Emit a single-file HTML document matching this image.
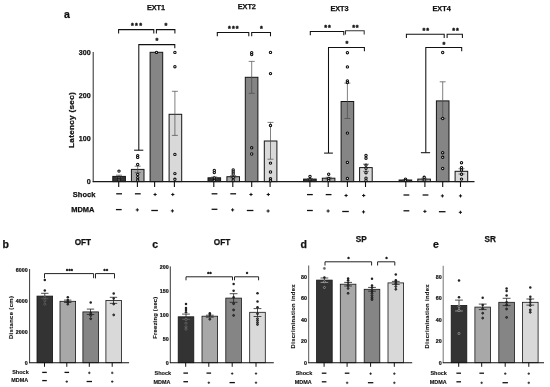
<!DOCTYPE html><html><head><meta charset="utf-8"><title>Figure</title>
<style>html,body{margin:0;padding:0;background:#fff}svg{display:block}text{font-family:"Liberation Sans",Arial,sans-serif;font-weight:bold;stroke:#111;stroke-width:.25px}</style></head><body>
<svg width="550" height="387" viewBox="0 0 550 387">
<rect width="550" height="387" fill="#fff"/>
<text x="64.0" y="17.7" font-size="10.5" text-anchor="start" fill="#111" >a</text>
<text x="156.0" y="9.8" font-size="7.3" text-anchor="middle" fill="#111" >EXT1</text>
<text x="246.8" y="8.5" font-size="7.3" text-anchor="middle" fill="#111" >EXT2</text>
<text x="339.5" y="10.6" font-size="7.3" text-anchor="middle" fill="#111" >EXT3</text>
<text x="441.6" y="11.3" font-size="7.3" text-anchor="middle" fill="#111" >EXT4</text>
<text x="90.7" y="184.2" font-size="7.1" text-anchor="end" fill="#111" >0</text>
<text x="90.7" y="141.0" font-size="7.1" text-anchor="end" fill="#111" >100</text>
<text x="90.7" y="97.8" font-size="7.1" text-anchor="end" fill="#111" >200</text>
<text x="90.7" y="54.7" font-size="7.1" text-anchor="end" fill="#111" >300</text>
<text transform="translate(74.2,120.1) rotate(-90)" font-size="8.1" text-anchor="middle" textLength="55.6" lengthAdjust="spacing" fill="#111">Latency (sec)</text>
<rect x="112.8" y="176.4" width="12.6" height="5.2" fill="#333333" stroke="#141414" stroke-width="1.0"/>
<rect x="131.4" y="169.4" width="12.6" height="12.2" fill="#a8a8a8" stroke="#141414" stroke-width="1.0"/>
<rect x="150.1" y="52.3" width="12.6" height="129.3" fill="#858585" stroke="#141414" stroke-width="1.0"/>
<rect x="169.1" y="114.3" width="12.6" height="67.3" fill="#d9d9d9" stroke="#141414" stroke-width="1.0"/>
<rect x="208.0" y="177.8" width="12.6" height="3.8" fill="#333333" stroke="#141414" stroke-width="1.0"/>
<rect x="226.9" y="176.7" width="12.6" height="4.9" fill="#a8a8a8" stroke="#141414" stroke-width="1.0"/>
<rect x="245.3" y="77.3" width="12.6" height="104.3" fill="#858585" stroke="#141414" stroke-width="1.0"/>
<rect x="264.3" y="141.0" width="12.6" height="40.6" fill="#d9d9d9" stroke="#141414" stroke-width="1.0"/>
<rect x="303.6" y="179.1" width="12.6" height="2.5" fill="#333333" stroke="#141414" stroke-width="1.0"/>
<rect x="322.3" y="178.2" width="12.6" height="3.4" fill="#a8a8a8" stroke="#141414" stroke-width="1.0"/>
<rect x="341.1" y="101.5" width="12.6" height="80.1" fill="#858585" stroke="#141414" stroke-width="1.0"/>
<rect x="359.6" y="167.6" width="12.6" height="14.0" fill="#d9d9d9" stroke="#141414" stroke-width="1.0"/>
<rect x="399.1" y="180.0" width="12.6" height="1.6" fill="#333333" stroke="#141414" stroke-width="1.0"/>
<rect x="417.8" y="179.1" width="12.6" height="2.5" fill="#a8a8a8" stroke="#141414" stroke-width="1.0"/>
<rect x="436.4" y="100.9" width="12.6" height="80.7" fill="#858585" stroke="#141414" stroke-width="1.0"/>
<rect x="455.1" y="171.3" width="12.6" height="10.3" fill="#d9d9d9" stroke="#141414" stroke-width="1.0"/>
<line x1="93.2" y1="52.0" x2="93.2" y2="182.1" stroke="#2a2a2a" stroke-width="1"/>
<line x1="92.7" y1="181.6" x2="474.5" y2="181.6" stroke="#1a1a1a" stroke-width="1.1"/>
<line x1="118.7" y1="181.6" x2="118.7" y2="187.0" stroke="#111" stroke-width="1.1"/>
<line x1="137.4" y1="181.6" x2="137.4" y2="187.0" stroke="#111" stroke-width="1.1"/>
<line x1="154.6" y1="181.6" x2="154.6" y2="187.0" stroke="#111" stroke-width="1.1"/>
<line x1="174.4" y1="181.6" x2="174.4" y2="187.0" stroke="#111" stroke-width="1.1"/>
<line x1="213.8" y1="181.6" x2="213.8" y2="187.0" stroke="#111" stroke-width="1.1"/>
<line x1="232.8" y1="181.6" x2="232.8" y2="187.0" stroke="#111" stroke-width="1.1"/>
<line x1="251.7" y1="181.6" x2="251.7" y2="187.0" stroke="#111" stroke-width="1.1"/>
<line x1="270.1" y1="181.6" x2="270.1" y2="187.0" stroke="#111" stroke-width="1.1"/>
<line x1="309.9" y1="181.6" x2="309.9" y2="187.0" stroke="#111" stroke-width="1.1"/>
<line x1="328.2" y1="181.6" x2="328.2" y2="187.0" stroke="#111" stroke-width="1.1"/>
<line x1="347.4" y1="181.6" x2="347.4" y2="187.0" stroke="#111" stroke-width="1.1"/>
<line x1="365.5" y1="181.6" x2="365.5" y2="187.0" stroke="#111" stroke-width="1.1"/>
<line x1="405.8" y1="181.6" x2="405.8" y2="187.0" stroke="#111" stroke-width="1.1"/>
<line x1="424.9" y1="181.6" x2="424.9" y2="187.0" stroke="#111" stroke-width="1.1"/>
<line x1="442.7" y1="181.6" x2="442.7" y2="187.0" stroke="#111" stroke-width="1.1"/>
<line x1="460.5" y1="181.6" x2="460.5" y2="187.0" stroke="#111" stroke-width="1.1"/>
<line x1="119.0" y1="175.2" x2="119.0" y2="177.4" stroke="#4a4a4a" stroke-width="0.7"/>
<line x1="116.0" y1="175.2" x2="122.0" y2="175.2" stroke="#4a4a4a" stroke-width="0.7"/>
<line x1="116.0" y1="177.4" x2="122.0" y2="177.4" stroke="#4a4a4a" stroke-width="0.7"/>
<line x1="137.7" y1="166.2" x2="137.7" y2="172.6" stroke="#4a4a4a" stroke-width="0.7"/>
<line x1="134.7" y1="166.2" x2="140.7" y2="166.2" stroke="#4a4a4a" stroke-width="0.7"/>
<line x1="134.7" y1="172.6" x2="140.7" y2="172.6" stroke="#4a4a4a" stroke-width="0.7"/>
<line x1="174.9" y1="91.3" x2="174.9" y2="135.4" stroke="#4a4a4a" stroke-width="0.7"/>
<line x1="171.9" y1="91.3" x2="177.9" y2="91.3" stroke="#4a4a4a" stroke-width="0.7"/>
<line x1="171.9" y1="135.4" x2="177.9" y2="135.4" stroke="#4a4a4a" stroke-width="0.7"/>
<line x1="214.3" y1="177.0" x2="214.3" y2="178.6" stroke="#4a4a4a" stroke-width="0.7"/>
<line x1="211.3" y1="177.0" x2="217.3" y2="177.0" stroke="#4a4a4a" stroke-width="0.7"/>
<line x1="211.3" y1="178.6" x2="217.3" y2="178.6" stroke="#4a4a4a" stroke-width="0.7"/>
<line x1="233.2" y1="175.6" x2="233.2" y2="177.8" stroke="#4a4a4a" stroke-width="0.7"/>
<line x1="230.2" y1="175.6" x2="236.2" y2="175.6" stroke="#4a4a4a" stroke-width="0.7"/>
<line x1="230.2" y1="177.8" x2="236.2" y2="177.8" stroke="#4a4a4a" stroke-width="0.7"/>
<line x1="251.7" y1="61.4" x2="251.7" y2="93.3" stroke="#4a4a4a" stroke-width="0.7"/>
<line x1="248.7" y1="61.4" x2="254.7" y2="61.4" stroke="#4a4a4a" stroke-width="0.7"/>
<line x1="248.7" y1="93.3" x2="254.7" y2="93.3" stroke="#4a4a4a" stroke-width="0.7"/>
<line x1="270.5" y1="122.4" x2="270.5" y2="159.2" stroke="#4a4a4a" stroke-width="0.7"/>
<line x1="267.5" y1="122.4" x2="273.5" y2="122.4" stroke="#4a4a4a" stroke-width="0.7"/>
<line x1="267.5" y1="159.2" x2="273.5" y2="159.2" stroke="#4a4a4a" stroke-width="0.7"/>
<line x1="310.0" y1="178.5" x2="310.0" y2="179.7" stroke="#4a4a4a" stroke-width="0.7"/>
<line x1="307.0" y1="178.5" x2="313.0" y2="178.5" stroke="#4a4a4a" stroke-width="0.7"/>
<line x1="307.0" y1="179.7" x2="313.0" y2="179.7" stroke="#4a4a4a" stroke-width="0.7"/>
<line x1="328.7" y1="177.3" x2="328.7" y2="179.1" stroke="#4a4a4a" stroke-width="0.7"/>
<line x1="325.7" y1="177.3" x2="331.7" y2="177.3" stroke="#4a4a4a" stroke-width="0.7"/>
<line x1="325.7" y1="179.1" x2="331.7" y2="179.1" stroke="#4a4a4a" stroke-width="0.7"/>
<line x1="347.4" y1="83.1" x2="347.4" y2="118.5" stroke="#4a4a4a" stroke-width="0.7"/>
<line x1="344.4" y1="83.1" x2="350.4" y2="83.1" stroke="#4a4a4a" stroke-width="0.7"/>
<line x1="344.4" y1="118.5" x2="350.4" y2="118.5" stroke="#4a4a4a" stroke-width="0.7"/>
<line x1="366.0" y1="164.2" x2="366.0" y2="171.3" stroke="#4a4a4a" stroke-width="0.7"/>
<line x1="363.0" y1="164.2" x2="369.0" y2="164.2" stroke="#4a4a4a" stroke-width="0.7"/>
<line x1="363.0" y1="171.3" x2="369.0" y2="171.3" stroke="#4a4a4a" stroke-width="0.7"/>
<line x1="405.5" y1="179.6" x2="405.5" y2="180.4" stroke="#4a4a4a" stroke-width="0.7"/>
<line x1="402.5" y1="179.6" x2="408.5" y2="179.6" stroke="#4a4a4a" stroke-width="0.7"/>
<line x1="402.5" y1="180.4" x2="408.5" y2="180.4" stroke="#4a4a4a" stroke-width="0.7"/>
<line x1="424.2" y1="178.3" x2="424.2" y2="179.9" stroke="#4a4a4a" stroke-width="0.7"/>
<line x1="421.2" y1="178.3" x2="427.2" y2="178.3" stroke="#4a4a4a" stroke-width="0.7"/>
<line x1="421.2" y1="179.9" x2="427.2" y2="179.9" stroke="#4a4a4a" stroke-width="0.7"/>
<line x1="442.7" y1="81.8" x2="442.7" y2="118.5" stroke="#4a4a4a" stroke-width="0.7"/>
<line x1="439.7" y1="81.8" x2="445.7" y2="81.8" stroke="#4a4a4a" stroke-width="0.7"/>
<line x1="439.7" y1="118.5" x2="445.7" y2="118.5" stroke="#4a4a4a" stroke-width="0.7"/>
<line x1="461.5" y1="168.7" x2="461.5" y2="174.0" stroke="#4a4a4a" stroke-width="0.7"/>
<line x1="458.5" y1="168.7" x2="464.5" y2="168.7" stroke="#4a4a4a" stroke-width="0.7"/>
<line x1="458.5" y1="174.0" x2="464.5" y2="174.0" stroke="#4a4a4a" stroke-width="0.7"/>
<circle cx="119.0" cy="171.1" r="1.18" fill="rgba(255,255,255,.75)" stroke="#0a0a0a" stroke-width="1.05"/>
<circle cx="119.0" cy="178.0" r="1.18" fill="rgba(255,255,255,.75)" stroke="#0a0a0a" stroke-width="1.05"/>
<circle cx="119.0" cy="180.0" r="1.18" fill="rgba(255,255,255,.75)" stroke="#0a0a0a" stroke-width="1.05"/>
<circle cx="137.7" cy="155.6" r="1.18" fill="rgba(255,255,255,.75)" stroke="#0a0a0a" stroke-width="1.05"/>
<circle cx="137.7" cy="157.4" r="1.18" fill="rgba(255,255,255,.75)" stroke="#0a0a0a" stroke-width="1.05"/>
<circle cx="137.7" cy="164.5" r="1.18" fill="rgba(255,255,255,.75)" stroke="#0a0a0a" stroke-width="1.05"/>
<circle cx="137.7" cy="174.4" r="1.18" fill="rgba(255,255,255,.75)" stroke="#0a0a0a" stroke-width="1.05"/>
<circle cx="137.7" cy="177.6" r="1.18" fill="rgba(255,255,255,.75)" stroke="#0a0a0a" stroke-width="1.05"/>
<circle cx="137.7" cy="180.2" r="1.18" fill="rgba(255,255,255,.75)" stroke="#0a0a0a" stroke-width="1.05"/>
<circle cx="156.5" cy="52.4" r="1.18" fill="rgba(255,255,255,.75)" stroke="#0a0a0a" stroke-width="1.05"/>
<circle cx="174.9" cy="52.4" r="1.18" fill="rgba(255,255,255,.75)" stroke="#0a0a0a" stroke-width="1.05"/>
<circle cx="174.9" cy="66.7" r="1.18" fill="rgba(255,255,255,.75)" stroke="#0a0a0a" stroke-width="1.05"/>
<circle cx="174.9" cy="154.4" r="1.18" fill="rgba(255,255,255,.75)" stroke="#0a0a0a" stroke-width="1.05"/>
<circle cx="174.9" cy="173.6" r="1.18" fill="rgba(255,255,255,.75)" stroke="#0a0a0a" stroke-width="1.05"/>
<circle cx="174.9" cy="179.3" r="1.18" fill="rgba(255,255,255,.75)" stroke="#0a0a0a" stroke-width="1.05"/>
<circle cx="214.3" cy="170.5" r="1.18" fill="rgba(255,255,255,.75)" stroke="#0a0a0a" stroke-width="1.05"/>
<circle cx="214.3" cy="172.6" r="1.18" fill="rgba(255,255,255,.75)" stroke="#0a0a0a" stroke-width="1.05"/>
<circle cx="214.3" cy="178.0" r="1.18" fill="rgba(255,255,255,.75)" stroke="#0a0a0a" stroke-width="1.05"/>
<circle cx="214.3" cy="180.3" r="1.18" fill="rgba(255,255,255,.75)" stroke="#0a0a0a" stroke-width="1.05"/>
<circle cx="233.2" cy="170.0" r="1.18" fill="rgba(255,255,255,.75)" stroke="#0a0a0a" stroke-width="1.05"/>
<circle cx="233.2" cy="172.0" r="1.18" fill="rgba(255,255,255,.75)" stroke="#0a0a0a" stroke-width="1.05"/>
<circle cx="233.2" cy="174.0" r="1.18" fill="rgba(255,255,255,.75)" stroke="#0a0a0a" stroke-width="1.05"/>
<circle cx="233.2" cy="177.6" r="1.18" fill="rgba(255,255,255,.75)" stroke="#0a0a0a" stroke-width="1.05"/>
<circle cx="233.2" cy="180.2" r="1.18" fill="rgba(255,255,255,.75)" stroke="#0a0a0a" stroke-width="1.05"/>
<circle cx="251.7" cy="52.7" r="1.18" fill="rgba(255,255,255,.75)" stroke="#0a0a0a" stroke-width="1.05"/>
<circle cx="251.7" cy="54.6" r="1.18" fill="rgba(255,255,255,.75)" stroke="#0a0a0a" stroke-width="1.05"/>
<circle cx="251.7" cy="147.8" r="1.18" fill="rgba(255,255,255,.75)" stroke="#0a0a0a" stroke-width="1.05"/>
<circle cx="251.7" cy="154.0" r="1.18" fill="rgba(255,255,255,.75)" stroke="#0a0a0a" stroke-width="1.05"/>
<circle cx="270.5" cy="52.4" r="1.18" fill="rgba(255,255,255,.75)" stroke="#0a0a0a" stroke-width="1.05"/>
<circle cx="270.5" cy="73.6" r="1.18" fill="rgba(255,255,255,.75)" stroke="#0a0a0a" stroke-width="1.05"/>
<circle cx="270.5" cy="125.5" r="1.18" fill="rgba(255,255,255,.75)" stroke="#0a0a0a" stroke-width="1.05"/>
<circle cx="270.5" cy="163.1" r="1.18" fill="rgba(255,255,255,.75)" stroke="#0a0a0a" stroke-width="1.05"/>
<circle cx="270.5" cy="172.0" r="1.18" fill="rgba(255,255,255,.75)" stroke="#0a0a0a" stroke-width="1.05"/>
<circle cx="270.5" cy="178.8" r="1.18" fill="rgba(255,255,255,.75)" stroke="#0a0a0a" stroke-width="1.05"/>
<circle cx="270.5" cy="180.8" r="1.18" fill="rgba(255,255,255,.75)" stroke="#0a0a0a" stroke-width="1.05"/>
<circle cx="310.0" cy="176.4" r="1.18" fill="rgba(255,255,255,.75)" stroke="#0a0a0a" stroke-width="1.05"/>
<circle cx="310.0" cy="179.8" r="1.18" fill="rgba(255,255,255,.75)" stroke="#0a0a0a" stroke-width="1.05"/>
<circle cx="328.7" cy="174.2" r="1.18" fill="rgba(255,255,255,.75)" stroke="#0a0a0a" stroke-width="1.05"/>
<circle cx="328.7" cy="178.5" r="1.18" fill="rgba(255,255,255,.75)" stroke="#0a0a0a" stroke-width="1.05"/>
<circle cx="328.7" cy="180.4" r="1.18" fill="rgba(255,255,255,.75)" stroke="#0a0a0a" stroke-width="1.05"/>
<circle cx="347.4" cy="52.7" r="1.18" fill="rgba(255,255,255,.75)" stroke="#0a0a0a" stroke-width="1.05"/>
<circle cx="347.4" cy="66.9" r="1.18" fill="rgba(255,255,255,.75)" stroke="#0a0a0a" stroke-width="1.05"/>
<circle cx="347.4" cy="80.9" r="1.18" fill="rgba(255,255,255,.75)" stroke="#0a0a0a" stroke-width="1.05"/>
<circle cx="347.4" cy="82.6" r="1.18" fill="rgba(255,255,255,.75)" stroke="#0a0a0a" stroke-width="1.05"/>
<circle cx="347.4" cy="133.1" r="1.18" fill="rgba(255,255,255,.75)" stroke="#0a0a0a" stroke-width="1.05"/>
<circle cx="347.4" cy="162.4" r="1.18" fill="rgba(255,255,255,.75)" stroke="#0a0a0a" stroke-width="1.05"/>
<circle cx="347.4" cy="178.5" r="1.18" fill="rgba(255,255,255,.75)" stroke="#0a0a0a" stroke-width="1.05"/>
<circle cx="366.0" cy="155.5" r="1.18" fill="rgba(255,255,255,.75)" stroke="#0a0a0a" stroke-width="1.05"/>
<circle cx="366.0" cy="158.2" r="1.18" fill="rgba(255,255,255,.75)" stroke="#0a0a0a" stroke-width="1.05"/>
<circle cx="366.0" cy="165.1" r="1.18" fill="rgba(255,255,255,.75)" stroke="#0a0a0a" stroke-width="1.05"/>
<circle cx="366.0" cy="168.2" r="1.18" fill="rgba(255,255,255,.75)" stroke="#0a0a0a" stroke-width="1.05"/>
<circle cx="366.0" cy="172.7" r="1.18" fill="rgba(255,255,255,.75)" stroke="#0a0a0a" stroke-width="1.05"/>
<circle cx="366.0" cy="178.2" r="1.18" fill="rgba(255,255,255,.75)" stroke="#0a0a0a" stroke-width="1.05"/>
<circle cx="366.0" cy="180.6" r="1.18" fill="rgba(255,255,255,.75)" stroke="#0a0a0a" stroke-width="1.05"/>
<circle cx="405.5" cy="179.1" r="1.18" fill="rgba(255,255,255,.75)" stroke="#0a0a0a" stroke-width="1.05"/>
<circle cx="405.5" cy="180.6" r="1.18" fill="rgba(255,255,255,.75)" stroke="#0a0a0a" stroke-width="1.05"/>
<circle cx="424.2" cy="177.3" r="1.18" fill="rgba(255,255,255,.75)" stroke="#0a0a0a" stroke-width="1.05"/>
<circle cx="424.2" cy="180.0" r="1.18" fill="rgba(255,255,255,.75)" stroke="#0a0a0a" stroke-width="1.05"/>
<circle cx="442.7" cy="52.5" r="1.18" fill="rgba(255,255,255,.75)" stroke="#0a0a0a" stroke-width="1.05"/>
<circle cx="442.7" cy="118.5" r="1.18" fill="rgba(255,255,255,.75)" stroke="#0a0a0a" stroke-width="1.05"/>
<circle cx="442.7" cy="152.7" r="1.18" fill="rgba(255,255,255,.75)" stroke="#0a0a0a" stroke-width="1.05"/>
<circle cx="442.7" cy="157.3" r="1.18" fill="rgba(255,255,255,.75)" stroke="#0a0a0a" stroke-width="1.05"/>
<circle cx="442.7" cy="168.5" r="1.18" fill="rgba(255,255,255,.75)" stroke="#0a0a0a" stroke-width="1.05"/>
<circle cx="461.5" cy="162.7" r="1.18" fill="rgba(255,255,255,.75)" stroke="#0a0a0a" stroke-width="1.05"/>
<circle cx="461.5" cy="167.6" r="1.18" fill="rgba(255,255,255,.75)" stroke="#0a0a0a" stroke-width="1.05"/>
<circle cx="461.5" cy="170.0" r="1.18" fill="rgba(255,255,255,.75)" stroke="#0a0a0a" stroke-width="1.05"/>
<circle cx="461.5" cy="174.2" r="1.18" fill="rgba(255,255,255,.75)" stroke="#0a0a0a" stroke-width="1.05"/>
<circle cx="461.5" cy="179.1" r="1.18" fill="rgba(255,255,255,.75)" stroke="#0a0a0a" stroke-width="1.05"/>
<path d="M118.6 33.5V29.6H153.8V33.5" fill="none" stroke="#111" stroke-width="1.05"/>
<path d="M156.4 33.5V29.6H174.9V33.5" fill="none" stroke="#111" stroke-width="1.05"/>
<text x="131.0 135.1 139.2" y="28.0" font-size="7.2" fill="#111" style="stroke-width:0.4px">***</text>
<text x="164.5" y="27.8" font-size="7.2" fill="#111" style="stroke-width:0.4px">*</text>
<text x="155.6" y="43.2" font-size="7.2" fill="#111" style="stroke-width:0.4px">*</text>
<path d="M138.8 150.2V44.6H174.8V48.3" fill="none" stroke="#111" stroke-width="1.05"/>
<line x1="134.1" y1="150.2" x2="143.3" y2="150.2" stroke="#111" stroke-width="1.05"/>
<path d="M217.3 36.3V32.5H248.8V36.3" fill="none" stroke="#111" stroke-width="1.05"/>
<path d="M251.7 36.3V32.5H270.5V36.3" fill="none" stroke="#111" stroke-width="1.05"/>
<text x="227.9 231.9 235.8" y="31.2" font-size="7.2" fill="#111" style="stroke-width:0.4px">***</text>
<text x="259.9" y="31.2" font-size="7.2" fill="#111" style="stroke-width:0.4px">*</text>
<path d="M310.3 35.2V31.4H343.8V35.2" fill="none" stroke="#111" stroke-width="1.05"/>
<path d="M345.5 34.6V30.8H364.2V34.6" fill="none" stroke="#333" stroke-width="1.05"/>
<text x="324.3 328.0" y="30.2" font-size="7.2" fill="#111" style="stroke-width:0.4px">**</text>
<text x="352.2 355.8" y="29.7" font-size="7.2" fill="#111" style="stroke-width:0.4px">**</text>
<text x="345.6" y="46.2" font-size="7.2" fill="#111" style="stroke-width:0.4px">*</text>
<path d="M328.5 153.1V47.5H364.4V51.3" fill="none" stroke="#111" stroke-width="1.05"/>
<line x1="324.1" y1="153.1" x2="332.9" y2="153.1" stroke="#111" stroke-width="1.05"/>
<path d="M406.4 38.1V34.3H444.2V38.1" fill="none" stroke="#111" stroke-width="1.05"/>
<path d="M447.1 38.1V34.3H462.4V38.1" fill="none" stroke="#111" stroke-width="1.05"/>
<text x="422.5 426.2" y="32.6" font-size="7.2" fill="#111" style="stroke-width:0.4px">**</text>
<text x="452.3 455.9" y="32.6" font-size="7.2" fill="#111" style="stroke-width:0.4px">**</text>
<text x="442.5" y="46.5" font-size="7.2" fill="#111" style="stroke-width:0.4px">*</text>
<path d="M425.8 152.7V47.4H461.7V51.2" fill="none" stroke="#111" stroke-width="1.05"/>
<line x1="420.9" y1="152.7" x2="430.1" y2="152.7" stroke="#111" stroke-width="1.05"/>
<text x="72.8" y="197.0" font-size="7.5" text-anchor="start" fill="#111" >Shock</text>
<text x="71.3" y="212.3" font-size="7.45" text-anchor="start" fill="#111" >MDMA</text>
<line x1="116.2" y1="193.8" x2="122.0" y2="193.8" stroke="#111" stroke-width="1.3"/>
<line x1="134.9" y1="193.8" x2="140.7" y2="193.8" stroke="#111" stroke-width="1.3"/>
<line x1="153.5" y1="194.5" x2="156.7" y2="194.5" stroke="#111" stroke-width="1.0"/>
<line x1="155.1" y1="192.9" x2="155.1" y2="196.1" stroke="#111" stroke-width="1.0"/>
<line x1="171.2" y1="194.5" x2="174.4" y2="194.5" stroke="#111" stroke-width="1.0"/>
<line x1="172.8" y1="192.9" x2="172.8" y2="196.1" stroke="#111" stroke-width="1.0"/>
<line x1="115.9" y1="209.6" x2="121.7" y2="209.6" stroke="#111" stroke-width="1.3"/>
<line x1="135.7" y1="209.9" x2="138.9" y2="209.9" stroke="#111" stroke-width="1.0"/>
<line x1="137.3" y1="208.3" x2="137.3" y2="211.5" stroke="#111" stroke-width="1.0"/>
<line x1="151.3" y1="210.5" x2="157.9" y2="210.5" stroke="#111" stroke-width="1.3"/>
<line x1="170.8" y1="210.9" x2="174.0" y2="210.9" stroke="#111" stroke-width="1.0"/>
<line x1="172.4" y1="209.3" x2="172.4" y2="212.5" stroke="#111" stroke-width="1.0"/>
<line x1="211.6" y1="193.8" x2="217.4" y2="193.8" stroke="#111" stroke-width="1.3"/>
<line x1="230.3" y1="193.8" x2="236.1" y2="193.8" stroke="#111" stroke-width="1.3"/>
<line x1="249.4" y1="194.5" x2="252.6" y2="194.5" stroke="#111" stroke-width="1.0"/>
<line x1="251.0" y1="192.9" x2="251.0" y2="196.1" stroke="#111" stroke-width="1.0"/>
<line x1="266.7" y1="194.5" x2="269.9" y2="194.5" stroke="#111" stroke-width="1.0"/>
<line x1="268.3" y1="192.9" x2="268.3" y2="196.1" stroke="#111" stroke-width="1.0"/>
<line x1="211.6" y1="209.3" x2="217.4" y2="209.3" stroke="#111" stroke-width="1.3"/>
<line x1="231.0" y1="209.9" x2="234.2" y2="209.9" stroke="#111" stroke-width="1.0"/>
<line x1="232.6" y1="208.3" x2="232.6" y2="211.5" stroke="#111" stroke-width="1.0"/>
<line x1="246.8" y1="210.5" x2="253.4" y2="210.5" stroke="#111" stroke-width="1.3"/>
<line x1="266.5" y1="211.0" x2="269.7" y2="211.0" stroke="#111" stroke-width="1.0"/>
<line x1="268.1" y1="209.4" x2="268.1" y2="212.6" stroke="#111" stroke-width="1.0"/>
<line x1="307.0" y1="194.6" x2="312.8" y2="194.6" stroke="#111" stroke-width="1.3"/>
<line x1="325.7" y1="194.6" x2="331.5" y2="194.6" stroke="#111" stroke-width="1.3"/>
<line x1="344.5" y1="195.5" x2="347.7" y2="195.5" stroke="#111" stroke-width="1.0"/>
<line x1="346.1" y1="193.9" x2="346.1" y2="197.1" stroke="#111" stroke-width="1.0"/>
<line x1="362.1" y1="195.5" x2="365.3" y2="195.5" stroke="#111" stroke-width="1.0"/>
<line x1="363.7" y1="193.9" x2="363.7" y2="197.1" stroke="#111" stroke-width="1.0"/>
<line x1="307.0" y1="210.5" x2="312.8" y2="210.5" stroke="#111" stroke-width="1.3"/>
<line x1="326.5" y1="211.0" x2="329.7" y2="211.0" stroke="#111" stroke-width="1.0"/>
<line x1="328.1" y1="209.4" x2="328.1" y2="212.6" stroke="#111" stroke-width="1.0"/>
<line x1="342.2" y1="211.5" x2="348.8" y2="211.5" stroke="#111" stroke-width="1.3"/>
<line x1="361.9" y1="211.9" x2="365.1" y2="211.9" stroke="#111" stroke-width="1.0"/>
<line x1="363.5" y1="210.3" x2="363.5" y2="213.5" stroke="#111" stroke-width="1.0"/>
<line x1="403.5" y1="195.0" x2="409.3" y2="195.0" stroke="#111" stroke-width="1.3"/>
<line x1="422.6" y1="195.0" x2="428.4" y2="195.0" stroke="#111" stroke-width="1.3"/>
<line x1="440.8" y1="195.9" x2="444.0" y2="195.9" stroke="#111" stroke-width="1.0"/>
<line x1="442.4" y1="194.3" x2="442.4" y2="197.5" stroke="#111" stroke-width="1.0"/>
<line x1="458.9" y1="195.9" x2="462.1" y2="195.9" stroke="#111" stroke-width="1.0"/>
<line x1="460.5" y1="194.3" x2="460.5" y2="197.5" stroke="#111" stroke-width="1.0"/>
<line x1="403.5" y1="210.8" x2="409.3" y2="210.8" stroke="#111" stroke-width="1.3"/>
<line x1="423.3" y1="211.4" x2="426.5" y2="211.4" stroke="#111" stroke-width="1.0"/>
<line x1="424.9" y1="209.8" x2="424.9" y2="213.0" stroke="#111" stroke-width="1.0"/>
<line x1="438.9" y1="211.7" x2="445.5" y2="211.7" stroke="#111" stroke-width="1.3"/>
<line x1="458.8" y1="212.3" x2="462.0" y2="212.3" stroke="#111" stroke-width="1.0"/>
<line x1="460.4" y1="210.7" x2="460.4" y2="213.9" stroke="#111" stroke-width="1.0"/>
<text x="2.6" y="247.8" font-size="10.5" text-anchor="start" fill="#111" >b</text>
<text x="82.9" y="244.9" font-size="8.2" text-anchor="middle" fill="#111" >OFT</text>
<rect x="37.0" y="296.1" width="15.6" height="66.6" fill="#333333" stroke="#141414" stroke-width="0.8"/>
<rect x="60.0" y="301.3" width="15.6" height="61.4" fill="#a8a8a8" stroke="#141414" stroke-width="0.8"/>
<rect x="82.9" y="311.9" width="15.6" height="50.8" fill="#858585" stroke="#141414" stroke-width="0.8"/>
<rect x="105.9" y="300.5" width="15.6" height="62.2" fill="#d9d9d9" stroke="#141414" stroke-width="0.8"/>
<line x1="29.6" y1="269.0" x2="29.6" y2="363.1" stroke="#222" stroke-width="0.9"/>
<line x1="29.2" y1="362.7" x2="129.1" y2="362.7" stroke="#111" stroke-width="1.05"/>
<line x1="44.5" y1="362.7" x2="44.5" y2="366.8" stroke="#111" stroke-width="1.0"/>
<line x1="66.8" y1="362.7" x2="66.8" y2="366.8" stroke="#111" stroke-width="1.0"/>
<line x1="89.3" y1="362.7" x2="89.3" y2="366.8" stroke="#111" stroke-width="1.0"/>
<line x1="112.2" y1="362.7" x2="112.2" y2="366.8" stroke="#111" stroke-width="1.0"/>
<text x="27.6" y="271.8" font-size="5.3" text-anchor="end" fill="#111" style="stroke-width:.2px">6000</text>
<text x="27.6" y="302.9" font-size="5.3" text-anchor="end" fill="#111" style="stroke-width:.2px">4000</text>
<text x="27.6" y="333.9" font-size="5.3" text-anchor="end" fill="#111" style="stroke-width:.2px">2000</text>
<text x="27.6" y="364.8" font-size="5.3" text-anchor="end" fill="#111" style="stroke-width:.2px">0</text>
<text transform="translate(13.2,317.6) rotate(-90)" font-size="5.9" text-anchor="middle" textLength="43" lengthAdjust="spacing" style="stroke-width:.1px" fill="#111">Distance (cm)</text>
<text x="12.2" y="374.1" font-size="5.5" text-anchor="start" fill="#111"  style="stroke-width:.12px">Shock</text>
<text x="11.3" y="382.4" font-size="5.45" text-anchor="start" fill="#111"  style="stroke-width:.12px">MDMA</text>
<line x1="42.2" y1="372.4" x2="46.8" y2="372.4" stroke="#111" stroke-width="1.3"/>
<line x1="64.5" y1="372.4" x2="69.1" y2="372.4" stroke="#111" stroke-width="1.3"/>
<line x1="88.0" y1="372.9" x2="90.5" y2="372.9" stroke="#111" stroke-width="0.8"/>
<line x1="89.3" y1="371.6" x2="89.3" y2="374.1" stroke="#111" stroke-width="0.8"/>
<line x1="111.0" y1="372.9" x2="113.5" y2="372.9" stroke="#111" stroke-width="0.8"/>
<line x1="112.2" y1="371.6" x2="112.2" y2="374.1" stroke="#111" stroke-width="0.8"/>
<line x1="42.2" y1="380.6" x2="46.8" y2="380.6" stroke="#111" stroke-width="1.3"/>
<line x1="65.5" y1="381.6" x2="68.0" y2="381.6" stroke="#111" stroke-width="0.8"/>
<line x1="66.8" y1="380.4" x2="66.8" y2="382.9" stroke="#111" stroke-width="0.8"/>
<line x1="86.6" y1="381.5" x2="92.0" y2="381.5" stroke="#111" stroke-width="1.3"/>
<line x1="111.0" y1="381.6" x2="113.5" y2="381.6" stroke="#111" stroke-width="0.8"/>
<line x1="112.2" y1="380.4" x2="112.2" y2="382.9" stroke="#111" stroke-width="0.8"/>
<line x1="44.8" y1="293.3" x2="44.8" y2="298.8" stroke="#222" stroke-width="0.8"/>
<line x1="41.1" y1="293.3" x2="48.5" y2="293.3" stroke="#222" stroke-width="0.8"/>
<line x1="41.1" y1="298.8" x2="48.5" y2="298.8" stroke="#222" stroke-width="0.8"/>
<line x1="67.7" y1="300.1" x2="67.7" y2="302.5" stroke="#222" stroke-width="0.8"/>
<line x1="64.0" y1="300.1" x2="71.4" y2="300.1" stroke="#222" stroke-width="0.8"/>
<line x1="64.0" y1="302.5" x2="71.4" y2="302.5" stroke="#222" stroke-width="0.8"/>
<line x1="90.5" y1="309.1" x2="90.5" y2="314.5" stroke="#222" stroke-width="0.8"/>
<line x1="86.8" y1="309.1" x2="94.2" y2="309.1" stroke="#222" stroke-width="0.8"/>
<line x1="86.8" y1="314.5" x2="94.2" y2="314.5" stroke="#222" stroke-width="0.8"/>
<line x1="113.5" y1="297.3" x2="113.5" y2="303.4" stroke="#222" stroke-width="0.8"/>
<line x1="109.8" y1="297.3" x2="117.2" y2="297.3" stroke="#222" stroke-width="0.8"/>
<line x1="109.8" y1="303.4" x2="117.2" y2="303.4" stroke="#222" stroke-width="0.8"/>
<line x1="44.8" y1="296.7" x2="44.8" y2="298.8" stroke="#707070" stroke-width="0.7"/>
<line x1="41.1" y1="298.8" x2="48.5" y2="298.8" stroke="#707070" stroke-width="0.7"/>
<circle cx="44.8" cy="280.0" r="1.25" fill="#222" stroke="none" stroke-width="0"/>
<circle cx="44.8" cy="290.4" r="1.25" fill="#222" stroke="none" stroke-width="0"/>
<circle cx="44.8" cy="297.5" r="1.05" fill="#262626" stroke="#8a8a8a" stroke-width="0.45"/>
<circle cx="44.8" cy="300.9" r="1.05" fill="#262626" stroke="#8a8a8a" stroke-width="0.45"/>
<circle cx="44.8" cy="304.2" r="1.05" fill="#262626" stroke="#8a8a8a" stroke-width="0.45"/>
<circle cx="67.8" cy="297.3" r="1.25" fill="#222" stroke="none" stroke-width="0"/>
<circle cx="67.8" cy="300.0" r="1.25" fill="#222" stroke="none" stroke-width="0"/>
<circle cx="67.8" cy="302.2" r="0.95" fill="rgba(70,70,70,.9)" stroke="#141414" stroke-width="0.85"/>
<circle cx="67.8" cy="304.2" r="0.95" fill="rgba(70,70,70,.9)" stroke="#141414" stroke-width="0.85"/>
<circle cx="90.7" cy="302.4" r="1.25" fill="#222" stroke="none" stroke-width="0"/>
<circle cx="90.7" cy="313.1" r="0.95" fill="rgba(70,70,70,.9)" stroke="#141414" stroke-width="0.85"/>
<circle cx="90.7" cy="315.5" r="0.95" fill="rgba(70,70,70,.9)" stroke="#141414" stroke-width="0.85"/>
<circle cx="90.7" cy="318.7" r="0.95" fill="rgba(70,70,70,.9)" stroke="#141414" stroke-width="0.85"/>
<circle cx="113.7" cy="293.6" r="1.25" fill="#222" stroke="none" stroke-width="0"/>
<circle cx="113.7" cy="298.5" r="1.25" fill="#222" stroke="none" stroke-width="0"/>
<circle cx="113.7" cy="304.0" r="0.95" fill="rgba(70,70,70,.9)" stroke="#141414" stroke-width="0.85"/>
<circle cx="113.7" cy="314.9" r="0.95" fill="rgba(70,70,70,.9)" stroke="#141414" stroke-width="0.85"/>
<path d="M44.5 278.2V273.6H93.6V278.2" fill="none" stroke="#222" stroke-width="1.0"/>
<path d="M95.5 278.4V273.6H114.5V278.4" fill="none" stroke="#222" stroke-width="1.0"/>
<text x="66.1 68.4 70.7" y="273.3" font-size="5.4" fill="#111" style="stroke-width:0.35px">***</text>
<text x="103.6 105.9" y="273.2" font-size="5.4" fill="#111" style="stroke-width:0.35px">**</text>
<text x="152.2" y="247.8" font-size="10.5" text-anchor="start" fill="#111" >c</text>
<text x="222.0" y="245.1" font-size="8.2" text-anchor="middle" fill="#111" >OFT</text>
<rect x="178.2" y="316.8" width="15.6" height="45.9" fill="#333333" stroke="#141414" stroke-width="0.8"/>
<rect x="202.0" y="316.2" width="15.6" height="46.5" fill="#a8a8a8" stroke="#141414" stroke-width="0.8"/>
<rect x="225.8" y="298.1" width="15.6" height="64.6" fill="#858585" stroke="#141414" stroke-width="0.8"/>
<rect x="249.7" y="312.3" width="15.6" height="50.4" fill="#d9d9d9" stroke="#141414" stroke-width="0.8"/>
<line x1="170.3" y1="266.4" x2="170.3" y2="363.1" stroke="#222" stroke-width="0.9"/>
<line x1="169.9" y1="362.7" x2="273.8" y2="362.7" stroke="#111" stroke-width="1.05"/>
<line x1="185.7" y1="362.7" x2="185.7" y2="366.8" stroke="#111" stroke-width="1.0"/>
<line x1="208.8" y1="362.7" x2="208.8" y2="366.8" stroke="#111" stroke-width="1.0"/>
<line x1="232.2" y1="362.7" x2="232.2" y2="366.8" stroke="#111" stroke-width="1.0"/>
<line x1="256.0" y1="362.7" x2="256.0" y2="366.8" stroke="#111" stroke-width="1.0"/>
<text x="168.7" y="268.7" font-size="5.3" text-anchor="end" fill="#111" style="stroke-width:.2px">200</text>
<text x="168.7" y="292.7" font-size="5.3" text-anchor="end" fill="#111" style="stroke-width:.2px">150</text>
<text x="168.7" y="316.7" font-size="5.3" text-anchor="end" fill="#111" style="stroke-width:.2px">100</text>
<text x="168.7" y="340.7" font-size="5.3" text-anchor="end" fill="#111" style="stroke-width:.2px">50</text>
<text x="168.7" y="364.8" font-size="5.3" text-anchor="end" fill="#111" style="stroke-width:.2px">0</text>
<text transform="translate(157,317.7) rotate(-90)" font-size="5.9" text-anchor="middle" textLength="42" lengthAdjust="spacing" style="stroke-width:.1px" fill="#111">Freezing (sec)</text>
<text x="154.5" y="374.8" font-size="5.5" text-anchor="start" fill="#111"  style="stroke-width:.12px">Shock</text>
<text x="153.6" y="383.5" font-size="5.45" text-anchor="start" fill="#111"  style="stroke-width:.12px">MDMA</text>
<line x1="183.4" y1="373.1" x2="188.0" y2="373.1" stroke="#111" stroke-width="1.3"/>
<line x1="206.5" y1="373.1" x2="211.1" y2="373.1" stroke="#111" stroke-width="1.3"/>
<line x1="230.9" y1="373.6" x2="233.4" y2="373.6" stroke="#111" stroke-width="0.8"/>
<line x1="232.2" y1="372.3" x2="232.2" y2="374.8" stroke="#111" stroke-width="0.8"/>
<line x1="254.8" y1="373.6" x2="257.2" y2="373.6" stroke="#111" stroke-width="0.8"/>
<line x1="256.0" y1="372.3" x2="256.0" y2="374.8" stroke="#111" stroke-width="0.8"/>
<line x1="183.4" y1="381.7" x2="188.0" y2="381.7" stroke="#111" stroke-width="1.3"/>
<line x1="207.6" y1="382.7" x2="210.1" y2="382.7" stroke="#111" stroke-width="0.8"/>
<line x1="208.8" y1="381.5" x2="208.8" y2="384.0" stroke="#111" stroke-width="0.8"/>
<line x1="229.5" y1="382.6" x2="234.9" y2="382.6" stroke="#111" stroke-width="1.3"/>
<line x1="254.8" y1="382.7" x2="257.2" y2="382.7" stroke="#111" stroke-width="0.8"/>
<line x1="256.0" y1="381.5" x2="256.0" y2="384.0" stroke="#111" stroke-width="0.8"/>
<line x1="186.0" y1="314.1" x2="186.0" y2="319.3" stroke="#222" stroke-width="0.8"/>
<line x1="182.1" y1="314.1" x2="189.9" y2="314.1" stroke="#222" stroke-width="0.8"/>
<line x1="182.1" y1="319.3" x2="189.9" y2="319.3" stroke="#222" stroke-width="0.8"/>
<line x1="209.8" y1="315.2" x2="209.8" y2="317.2" stroke="#222" stroke-width="0.8"/>
<line x1="205.9" y1="315.2" x2="213.7" y2="315.2" stroke="#222" stroke-width="0.8"/>
<line x1="205.9" y1="317.2" x2="213.7" y2="317.2" stroke="#222" stroke-width="0.8"/>
<line x1="233.6" y1="293.7" x2="233.6" y2="302.3" stroke="#222" stroke-width="0.8"/>
<line x1="229.7" y1="293.7" x2="237.5" y2="293.7" stroke="#222" stroke-width="0.8"/>
<line x1="229.7" y1="302.3" x2="237.5" y2="302.3" stroke="#222" stroke-width="0.8"/>
<line x1="257.5" y1="308.6" x2="257.5" y2="316.5" stroke="#222" stroke-width="0.8"/>
<line x1="253.6" y1="308.6" x2="261.4" y2="308.6" stroke="#222" stroke-width="0.8"/>
<line x1="253.6" y1="316.5" x2="261.4" y2="316.5" stroke="#222" stroke-width="0.8"/>
<line x1="186.0" y1="317.4" x2="186.0" y2="319.3" stroke="#777" stroke-width="0.7"/>
<line x1="182.1" y1="319.3" x2="189.9" y2="319.3" stroke="#777" stroke-width="0.7"/>
<circle cx="186.0" cy="304.1" r="1.25" fill="#222" stroke="none" stroke-width="0"/>
<circle cx="186.0" cy="308.1" r="1.25" fill="#222" stroke="none" stroke-width="0"/>
<circle cx="186.0" cy="309.9" r="1.25" fill="#222" stroke="none" stroke-width="0"/>
<circle cx="186.0" cy="312.2" r="1.25" fill="#222" stroke="none" stroke-width="0"/>
<circle cx="186.0" cy="319.5" r="1.05" fill="#262626" stroke="#999" stroke-width="0.45"/>
<circle cx="186.0" cy="323.2" r="1.05" fill="#262626" stroke="#999" stroke-width="0.45"/>
<circle cx="186.0" cy="326.8" r="1.05" fill="#262626" stroke="#999" stroke-width="0.45"/>
<circle cx="186.0" cy="329.2" r="1.05" fill="#262626" stroke="#999" stroke-width="0.45"/>
<circle cx="209.8" cy="313.2" r="1.25" fill="#222" stroke="none" stroke-width="0"/>
<circle cx="209.8" cy="314.7" r="1.25" fill="#222" stroke="none" stroke-width="0"/>
<circle cx="209.8" cy="319.2" r="0.95" fill="rgba(70,70,70,.9)" stroke="#141414" stroke-width="0.85"/>
<circle cx="233.6" cy="284.1" r="1.25" fill="#222" stroke="none" stroke-width="0"/>
<circle cx="233.6" cy="290.8" r="1.25" fill="#222" stroke="none" stroke-width="0"/>
<circle cx="233.6" cy="297.2" r="1.25" fill="#222" stroke="none" stroke-width="0"/>
<circle cx="233.6" cy="303.7" r="0.95" fill="rgba(70,70,70,.9)" stroke="#141414" stroke-width="0.85"/>
<circle cx="233.6" cy="309.9" r="0.95" fill="rgba(70,70,70,.9)" stroke="#141414" stroke-width="0.85"/>
<circle cx="233.6" cy="315.4" r="0.95" fill="rgba(70,70,70,.9)" stroke="#141414" stroke-width="0.85"/>
<circle cx="257.5" cy="293.2" r="1.25" fill="#222" stroke="none" stroke-width="0"/>
<circle cx="257.5" cy="301.4" r="1.25" fill="#222" stroke="none" stroke-width="0"/>
<circle cx="257.5" cy="307.2" r="1.25" fill="#222" stroke="none" stroke-width="0"/>
<circle cx="257.5" cy="313.7" r="0.95" fill="rgba(70,70,70,.9)" stroke="#141414" stroke-width="0.85"/>
<circle cx="257.5" cy="318.6" r="0.95" fill="rgba(70,70,70,.9)" stroke="#141414" stroke-width="0.85"/>
<circle cx="257.5" cy="320.5" r="0.95" fill="rgba(70,70,70,.9)" stroke="#141414" stroke-width="0.85"/>
<circle cx="257.5" cy="322.6" r="0.95" fill="rgba(70,70,70,.9)" stroke="#141414" stroke-width="0.85"/>
<circle cx="257.5" cy="324.5" r="0.95" fill="rgba(70,70,70,.9)" stroke="#141414" stroke-width="0.85"/>
<path d="M186.0 280.3V276.8H232.5V280.3" fill="none" stroke="#222" stroke-width="1.0"/>
<path d="M234.5 280.3V276.8H258.6V280.3" fill="none" stroke="#222" stroke-width="1.0"/>
<text x="207.3 209.6" y="276.0" font-size="5.4" fill="#111" style="stroke-width:0.35px">**</text>
<text x="246.0" y="275.9" font-size="5.4" fill="#111" style="stroke-width:0.35px">*</text>
<text x="300.6" y="247.8" font-size="10.5" text-anchor="start" fill="#111" >d</text>
<text x="361.2" y="241.8" font-size="8.2" text-anchor="middle" fill="#111" >SP</text>
<rect x="316.6" y="280.1" width="15.6" height="82.6" fill="#333333" stroke="#141414" stroke-width="0.8"/>
<rect x="340.3" y="284.2" width="15.6" height="78.5" fill="#a8a8a8" stroke="#141414" stroke-width="0.8"/>
<rect x="364.2" y="289.3" width="15.6" height="73.4" fill="#858585" stroke="#141414" stroke-width="0.8"/>
<rect x="388.0" y="282.9" width="15.6" height="79.8" fill="#d9d9d9" stroke="#141414" stroke-width="0.8"/>
<line x1="308.7" y1="265.5" x2="308.7" y2="363.1" stroke="#444" stroke-width="0.9"/>
<line x1="308.3" y1="362.7" x2="412.2" y2="362.7" stroke="#111" stroke-width="1.05"/>
<line x1="324.1" y1="362.7" x2="324.1" y2="366.8" stroke="#111" stroke-width="1.0"/>
<line x1="347.1" y1="362.7" x2="347.1" y2="366.8" stroke="#111" stroke-width="1.0"/>
<line x1="370.6" y1="362.7" x2="370.6" y2="366.8" stroke="#111" stroke-width="1.0"/>
<line x1="394.3" y1="362.7" x2="394.3" y2="366.8" stroke="#111" stroke-width="1.0"/>
<text x="306.9" y="278.9" font-size="5.3" text-anchor="end" fill="#111" style="stroke-width:.2px">80</text>
<text x="306.9" y="300.4" font-size="5.3" text-anchor="end" fill="#111" style="stroke-width:.2px">60</text>
<text x="306.9" y="321.9" font-size="5.3" text-anchor="end" fill="#111" style="stroke-width:.2px">40</text>
<text x="306.9" y="343.4" font-size="5.3" text-anchor="end" fill="#111" style="stroke-width:.2px">20</text>
<text x="306.9" y="364.8" font-size="5.3" text-anchor="end" fill="#111" style="stroke-width:.2px">0</text>
<text transform="translate(295.2,316.4) rotate(-90)" font-size="5.9" text-anchor="middle" textLength="64" lengthAdjust="spacing" style="stroke-width:.1px" fill="#111">Discrimination index</text>
<text x="295.7" y="374.9" font-size="5.5" text-anchor="start" fill="#111"  style="stroke-width:.12px">Shock</text>
<text x="294.8" y="383.6" font-size="5.45" text-anchor="start" fill="#111"  style="stroke-width:.12px">MDMA</text>
<line x1="321.8" y1="373.2" x2="326.4" y2="373.2" stroke="#111" stroke-width="1.3"/>
<line x1="344.8" y1="373.2" x2="349.4" y2="373.2" stroke="#111" stroke-width="1.3"/>
<line x1="369.4" y1="373.7" x2="371.9" y2="373.7" stroke="#111" stroke-width="0.8"/>
<line x1="370.6" y1="372.4" x2="370.6" y2="374.9" stroke="#111" stroke-width="0.8"/>
<line x1="393.1" y1="373.7" x2="395.6" y2="373.7" stroke="#111" stroke-width="0.8"/>
<line x1="394.3" y1="372.4" x2="394.3" y2="374.9" stroke="#111" stroke-width="0.8"/>
<line x1="321.8" y1="381.8" x2="326.4" y2="381.8" stroke="#111" stroke-width="1.3"/>
<line x1="345.9" y1="382.8" x2="348.4" y2="382.8" stroke="#111" stroke-width="0.8"/>
<line x1="347.1" y1="381.6" x2="347.1" y2="384.1" stroke="#111" stroke-width="0.8"/>
<line x1="367.9" y1="382.7" x2="373.3" y2="382.7" stroke="#111" stroke-width="1.3"/>
<line x1="393.1" y1="382.8" x2="395.6" y2="382.8" stroke="#111" stroke-width="0.8"/>
<line x1="394.3" y1="381.6" x2="394.3" y2="384.1" stroke="#111" stroke-width="0.8"/>
<line x1="324.4" y1="278.0" x2="324.4" y2="282.4" stroke="#222" stroke-width="0.8"/>
<line x1="320.5" y1="278.0" x2="328.3" y2="278.0" stroke="#222" stroke-width="0.8"/>
<line x1="320.5" y1="282.4" x2="328.3" y2="282.4" stroke="#222" stroke-width="0.8"/>
<line x1="348.1" y1="282.4" x2="348.1" y2="286.0" stroke="#222" stroke-width="0.8"/>
<line x1="344.2" y1="282.4" x2="352.0" y2="282.4" stroke="#222" stroke-width="0.8"/>
<line x1="344.2" y1="286.0" x2="352.0" y2="286.0" stroke="#222" stroke-width="0.8"/>
<line x1="372.0" y1="287.4" x2="372.0" y2="291.2" stroke="#222" stroke-width="0.8"/>
<line x1="368.1" y1="287.4" x2="375.9" y2="287.4" stroke="#222" stroke-width="0.8"/>
<line x1="368.1" y1="291.2" x2="375.9" y2="291.2" stroke="#222" stroke-width="0.8"/>
<line x1="395.8" y1="281.4" x2="395.8" y2="284.4" stroke="#222" stroke-width="0.8"/>
<line x1="391.9" y1="281.4" x2="399.7" y2="281.4" stroke="#222" stroke-width="0.8"/>
<line x1="391.9" y1="284.4" x2="399.7" y2="284.4" stroke="#222" stroke-width="0.8"/>
<circle cx="324.4" cy="268.4" r="1.1" fill="#6a6a6a" stroke="#444" stroke-width="0.4"/>
<line x1="324.4" y1="280.7" x2="324.4" y2="282.4" stroke="#c8c8c8" stroke-width="0.7"/>
<line x1="320.5" y1="282.4" x2="328.3" y2="282.4" stroke="#c8c8c8" stroke-width="0.7"/>
<circle cx="324.4" cy="277.5" r="1.25" fill="#222" stroke="none" stroke-width="0"/>
<circle cx="324.4" cy="281.8" r="1.05" fill="#262626" stroke="#e0e0e0" stroke-width="0.45"/>
<circle cx="324.4" cy="287.5" r="1.05" fill="#262626" stroke="#e0e0e0" stroke-width="0.45"/>
<circle cx="348.1" cy="278.4" r="1.25" fill="#222" stroke="none" stroke-width="0"/>
<circle cx="348.1" cy="280.2" r="1.25" fill="#222" stroke="none" stroke-width="0"/>
<circle cx="348.1" cy="282.4" r="1.25" fill="#222" stroke="none" stroke-width="0"/>
<circle cx="348.1" cy="285.6" r="0.95" fill="rgba(70,70,70,.9)" stroke="#141414" stroke-width="0.85"/>
<circle cx="348.1" cy="288.4" r="0.95" fill="rgba(70,70,70,.9)" stroke="#141414" stroke-width="0.85"/>
<circle cx="348.1" cy="293.3" r="0.95" fill="rgba(70,70,70,.9)" stroke="#141414" stroke-width="0.85"/>
<circle cx="372.0" cy="278.7" r="1.25" fill="#222" stroke="none" stroke-width="0"/>
<circle cx="372.0" cy="285.6" r="1.25" fill="#222" stroke="none" stroke-width="0"/>
<circle cx="372.0" cy="287.5" r="1.25" fill="#222" stroke="none" stroke-width="0"/>
<circle cx="372.0" cy="291.1" r="0.95" fill="rgba(70,70,70,.9)" stroke="#141414" stroke-width="0.85"/>
<circle cx="372.0" cy="293.3" r="0.95" fill="rgba(70,70,70,.9)" stroke="#141414" stroke-width="0.85"/>
<circle cx="372.0" cy="295.6" r="0.95" fill="rgba(70,70,70,.9)" stroke="#141414" stroke-width="0.85"/>
<circle cx="372.0" cy="297.8" r="0.95" fill="rgba(70,70,70,.9)" stroke="#141414" stroke-width="0.85"/>
<circle cx="372.0" cy="299.6" r="0.95" fill="rgba(70,70,70,.9)" stroke="#141414" stroke-width="0.85"/>
<circle cx="395.8" cy="274.4" r="1.25" fill="#222" stroke="none" stroke-width="0"/>
<circle cx="395.8" cy="280.2" r="1.25" fill="#222" stroke="none" stroke-width="0"/>
<circle cx="395.8" cy="282.0" r="1.25" fill="#222" stroke="none" stroke-width="0"/>
<circle cx="395.8" cy="283.8" r="0.95" fill="rgba(70,70,70,.9)" stroke="#141414" stroke-width="0.85"/>
<circle cx="395.8" cy="286.5" r="0.95" fill="rgba(70,70,70,.9)" stroke="#141414" stroke-width="0.85"/>
<circle cx="395.8" cy="289.3" r="0.95" fill="rgba(70,70,70,.9)" stroke="#141414" stroke-width="0.85"/>
<path d="M325.0 265.5V261.8H371.6V265.5" fill="none" stroke="#222" stroke-width="1.0"/>
<path d="M377.6 265.5V261.8H394.8V265.5" fill="none" stroke="#222" stroke-width="1.0"/>
<text x="347.5" y="260.5" font-size="5.4" fill="#111" style="stroke-width:0.35px">*</text>
<text x="385.6" y="260.8" font-size="5.4" fill="#111" style="stroke-width:0.35px">*</text>
<text x="432.9" y="247.8" font-size="10.5" text-anchor="start" fill="#111" >e</text>
<text x="490.3" y="241.6" font-size="8.2" text-anchor="middle" fill="#111" >SR</text>
<rect x="451.2" y="305.5" width="15.6" height="57.2" fill="#333333" stroke="#141414" stroke-width="0.8"/>
<rect x="474.9" y="307.1" width="15.6" height="55.6" fill="#a8a8a8" stroke="#141414" stroke-width="0.8"/>
<rect x="498.8" y="302.3" width="15.6" height="60.4" fill="#858585" stroke="#141414" stroke-width="0.8"/>
<rect x="522.5" y="302.3" width="15.6" height="60.4" fill="#d9d9d9" stroke="#141414" stroke-width="0.8"/>
<line x1="443.2" y1="265.8" x2="443.2" y2="363.1" stroke="#666" stroke-width="0.9"/>
<line x1="442.8" y1="362.7" x2="544.0" y2="362.7" stroke="#111" stroke-width="1.05"/>
<line x1="458.7" y1="362.7" x2="458.7" y2="366.8" stroke="#111" stroke-width="1.0"/>
<line x1="481.7" y1="362.7" x2="481.7" y2="366.8" stroke="#111" stroke-width="1.0"/>
<line x1="505.2" y1="362.7" x2="505.2" y2="366.8" stroke="#111" stroke-width="1.0"/>
<line x1="528.8" y1="362.7" x2="528.8" y2="366.8" stroke="#111" stroke-width="1.0"/>
<text x="441.6" y="278.9" font-size="5.3" text-anchor="end" fill="#111" style="stroke-width:.2px">80</text>
<text x="441.6" y="300.4" font-size="5.3" text-anchor="end" fill="#111" style="stroke-width:.2px">60</text>
<text x="441.6" y="321.9" font-size="5.3" text-anchor="end" fill="#111" style="stroke-width:.2px">40</text>
<text x="441.6" y="343.4" font-size="5.3" text-anchor="end" fill="#111" style="stroke-width:.2px">20</text>
<text x="441.6" y="364.8" font-size="5.3" text-anchor="end" fill="#111" style="stroke-width:.2px">0</text>
<text transform="translate(429.4,316.4) rotate(-90)" font-size="5.9" text-anchor="middle" textLength="64" lengthAdjust="spacing" style="stroke-width:.1px" fill="#111">Discrimination index</text>
<text x="430.4" y="374.9" font-size="5.5" text-anchor="start" fill="#111"  style="stroke-width:.12px">Shock</text>
<text x="429.7" y="383.6" font-size="5.45" text-anchor="start" fill="#111"  style="stroke-width:.12px">MDMA</text>
<line x1="456.4" y1="373.2" x2="461.0" y2="373.2" stroke="#111" stroke-width="1.3"/>
<line x1="479.4" y1="373.2" x2="484.0" y2="373.2" stroke="#111" stroke-width="1.3"/>
<line x1="504.0" y1="373.7" x2="506.5" y2="373.7" stroke="#111" stroke-width="0.8"/>
<line x1="505.2" y1="372.4" x2="505.2" y2="374.9" stroke="#111" stroke-width="0.8"/>
<line x1="527.5" y1="373.7" x2="530.0" y2="373.7" stroke="#111" stroke-width="0.8"/>
<line x1="528.8" y1="372.4" x2="528.8" y2="374.9" stroke="#111" stroke-width="0.8"/>
<line x1="456.4" y1="381.8" x2="461.0" y2="381.8" stroke="#111" stroke-width="1.3"/>
<line x1="480.4" y1="382.8" x2="482.9" y2="382.8" stroke="#111" stroke-width="0.8"/>
<line x1="481.7" y1="381.6" x2="481.7" y2="384.1" stroke="#111" stroke-width="0.8"/>
<line x1="502.5" y1="382.7" x2="507.9" y2="382.7" stroke="#111" stroke-width="1.3"/>
<line x1="527.5" y1="382.8" x2="530.0" y2="382.8" stroke="#111" stroke-width="0.8"/>
<line x1="528.8" y1="381.6" x2="528.8" y2="384.1" stroke="#111" stroke-width="0.8"/>
<line x1="459.0" y1="300.1" x2="459.0" y2="311.0" stroke="#222" stroke-width="0.8"/>
<line x1="455.1" y1="300.1" x2="462.9" y2="300.1" stroke="#222" stroke-width="0.8"/>
<line x1="455.1" y1="311.0" x2="462.9" y2="311.0" stroke="#222" stroke-width="0.8"/>
<line x1="482.7" y1="304.1" x2="482.7" y2="309.6" stroke="#222" stroke-width="0.8"/>
<line x1="478.8" y1="304.1" x2="486.6" y2="304.1" stroke="#222" stroke-width="0.8"/>
<line x1="478.8" y1="309.6" x2="486.6" y2="309.6" stroke="#222" stroke-width="0.8"/>
<line x1="506.6" y1="298.3" x2="506.6" y2="305.6" stroke="#222" stroke-width="0.8"/>
<line x1="502.7" y1="298.3" x2="510.5" y2="298.3" stroke="#222" stroke-width="0.8"/>
<line x1="502.7" y1="305.6" x2="510.5" y2="305.6" stroke="#222" stroke-width="0.8"/>
<line x1="530.3" y1="299.0" x2="530.3" y2="305.1" stroke="#222" stroke-width="0.8"/>
<line x1="526.4" y1="299.0" x2="534.2" y2="299.0" stroke="#222" stroke-width="0.8"/>
<line x1="526.4" y1="305.1" x2="534.2" y2="305.1" stroke="#222" stroke-width="0.8"/>
<line x1="459.0" y1="306.1" x2="459.0" y2="311.0" stroke="#c8c8c8" stroke-width="0.7"/>
<line x1="455.1" y1="311.0" x2="462.9" y2="311.0" stroke="#c8c8c8" stroke-width="0.7"/>
<circle cx="459.0" cy="280.5" r="1.25" fill="#222" stroke="none" stroke-width="0"/>
<circle cx="459.0" cy="297.2" r="1.25" fill="#222" stroke="none" stroke-width="0"/>
<circle cx="459.0" cy="306.4" r="1.05" fill="#262626" stroke="#e0e0e0" stroke-width="0.45"/>
<circle cx="459.0" cy="310.5" r="1.05" fill="#262626" stroke="#e0e0e0" stroke-width="0.45"/>
<circle cx="459.0" cy="333.5" r="1.05" fill="#262626" stroke="#e0e0e0" stroke-width="0.45"/>
<circle cx="482.7" cy="297.7" r="1.25" fill="#222" stroke="none" stroke-width="0"/>
<circle cx="482.7" cy="305.0" r="1.25" fill="#222" stroke="none" stroke-width="0"/>
<circle cx="482.7" cy="308.6" r="0.95" fill="rgba(70,70,70,.9)" stroke="#141414" stroke-width="0.85"/>
<circle cx="482.7" cy="313.2" r="0.95" fill="rgba(70,70,70,.9)" stroke="#141414" stroke-width="0.85"/>
<circle cx="482.7" cy="318.1" r="0.95" fill="rgba(70,70,70,.9)" stroke="#141414" stroke-width="0.85"/>
<circle cx="506.6" cy="288.6" r="1.25" fill="#222" stroke="none" stroke-width="0"/>
<circle cx="506.6" cy="291.0" r="1.25" fill="#222" stroke="none" stroke-width="0"/>
<circle cx="506.6" cy="295.5" r="1.25" fill="#222" stroke="none" stroke-width="0"/>
<circle cx="506.6" cy="302.3" r="1.25" fill="#222" stroke="none" stroke-width="0"/>
<circle cx="506.6" cy="305.0" r="0.95" fill="rgba(70,70,70,.9)" stroke="#141414" stroke-width="0.85"/>
<circle cx="506.6" cy="309.0" r="0.95" fill="rgba(70,70,70,.9)" stroke="#141414" stroke-width="0.85"/>
<circle cx="506.6" cy="317.4" r="0.95" fill="rgba(70,70,70,.9)" stroke="#141414" stroke-width="0.85"/>
<circle cx="530.3" cy="287.4" r="1.25" fill="#222" stroke="none" stroke-width="0"/>
<circle cx="530.3" cy="296.8" r="1.25" fill="#222" stroke="none" stroke-width="0"/>
<circle cx="530.3" cy="299.5" r="1.25" fill="#222" stroke="none" stroke-width="0"/>
<circle cx="530.3" cy="302.6" r="1.25" fill="#222" stroke="none" stroke-width="0"/>
<circle cx="530.3" cy="305.5" r="0.95" fill="rgba(70,70,70,.9)" stroke="#141414" stroke-width="0.85"/>
<circle cx="530.3" cy="309.9" r="0.95" fill="rgba(70,70,70,.9)" stroke="#141414" stroke-width="0.85"/>
<circle cx="530.3" cy="312.3" r="0.95" fill="rgba(70,70,70,.9)" stroke="#141414" stroke-width="0.85"/>
</svg></body></html>
